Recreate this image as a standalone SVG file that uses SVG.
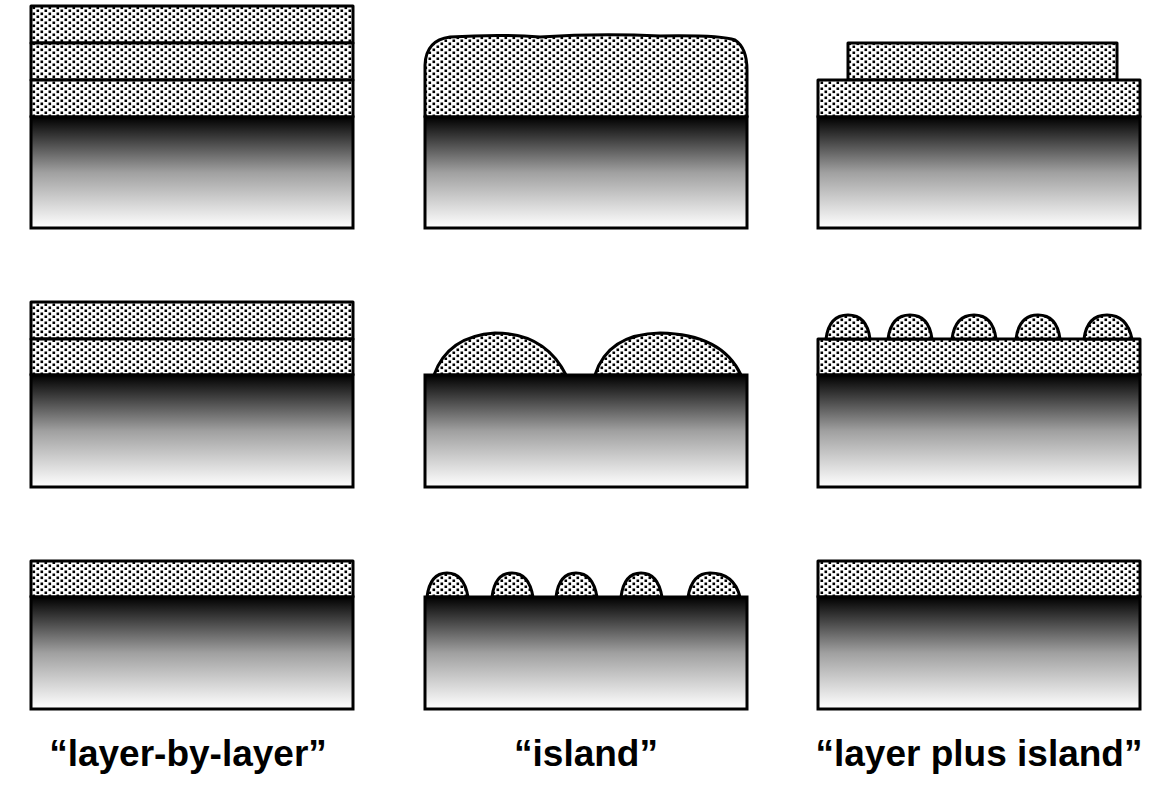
<svg xmlns="http://www.w3.org/2000/svg" width="1171" height="806" viewBox="0 0 1171 806">
<defs>
<pattern id="dots" width="8" height="6" patternUnits="userSpaceOnUse">
<rect width="8" height="6" fill="#fff"/>
<rect x="0.5" y="0.5" width="2.6" height="2.6" fill="#000"/>
<rect x="4.5" y="3.5" width="2.6" height="2.6" fill="#000"/>
</pattern>
<linearGradient id="sub" x1="0" y1="0" x2="0" y2="1">
<stop offset="0" stop-color="#000"/>
<stop offset="0.5" stop-color="#a0a0a0"/>
<stop offset="1" stop-color="#fff"/>
</linearGradient>
</defs>
<style>
.s{fill:url(#sub);stroke:#000;stroke-width:3}
.l{fill:url(#dots);stroke:#000;stroke-width:3;stroke-linejoin:round}
.t{font-family:"Liberation Sans",Arial,sans-serif;font-weight:bold;font-size:37px;text-anchor:middle}
</style>
<rect width="1171" height="806" fill="#fff"/>
<g id="lbl-r1">
<rect class="l" x="31" y="6" width="322" height="37"/>
<rect class="l" x="31" y="43" width="322" height="37"/>
<rect class="l" x="31" y="80" width="322" height="37"/>
<rect class="s" x="31" y="117" width="322" height="111"/>
</g>
<g id="island-r1">
<path class="l" d="M425,117 L425,65 Q426,40 450,37 Q500,34 540,37 Q600,33 660,36 Q720,35 735,40 Q747,48 747,70 L747,117 Z"/>
<rect class="s" x="425" y="117" width="322" height="111"/>
</g>
<g id="lpi-r1">
<rect class="l" x="848" y="43" width="269" height="37"/>
<rect class="l" x="818" y="80" width="322" height="37"/>
<rect class="s" x="818" y="117" width="322" height="111"/>
</g>
<g id="lbl-r2">
<rect class="l" x="31" y="302" width="322" height="37"/>
<rect class="l" x="31" y="339" width="322" height="36"/>
<rect class="s" x="31" y="375" width="322" height="112"/>
</g>
<g id="island-r2">
<path class="l" d="M434,375 Q448,336 495,333 Q545,333 566,375 Z"/>
<path class="l" d="M595,375 Q608,334 660,333 Q722,334 741,375 Z"/>
<rect class="s" x="425" y="375" width="322" height="112"/>
</g>
<g id="lpi-r2">
<rect class="l" x="818" y="339" width="322" height="36"/>
<path class="l" d="M826,339 Q829,315 848,315 Q867,315 870,339 Z"/>
<path class="l" d="M888,339 Q891,315 910,315 Q929,315 932,339 Z"/>
<path class="l" d="M952,339 Q955,315 974,315 Q993,315 996,339 Z"/>
<path class="l" d="M1016,339 Q1019,315 1038,315 Q1057,315 1060,339 Z"/>
<path class="l" d="M1084,339 Q1087,315 1107,315 Q1127,315 1132,339 Z"/>
<rect class="s" x="818" y="375" width="322" height="112"/>
</g>
<g id="lbl-r3">
<rect class="l" x="31" y="561" width="322" height="36"/>
<rect class="s" x="31" y="597" width="322" height="112"/>
</g>
<g id="island-r3">
<path class="l" d="M427,597 Q430,573 447,573 Q464,573 468,597 Z"/>
<path class="l" d="M492,597 Q495,573 512,573 Q529,573 533,597 Z"/>
<path class="l" d="M556,597 Q559,573 576,573 Q593,573 597,597 Z"/>
<path class="l" d="M621,597 Q624,573 641,573 Q658,573 662,597 Z"/>
<path class="l" d="M688,597 Q692,573 710,573 Q734,573 740,597 Z"/>
<rect class="s" x="425" y="597" width="322" height="112"/>
</g>
<g id="lpi-r3">
<rect class="l" x="818" y="561" width="322" height="36"/>
<rect class="s" x="818" y="597" width="322" height="112"/>
</g>
<g id="labels">
<text class="t" x="188" y="766">“layer-by-layer”</text>
<text class="t" x="586" y="766">“island”</text>
<text class="t" x="979" y="766">“layer plus island”</text>
</g>
</svg>
